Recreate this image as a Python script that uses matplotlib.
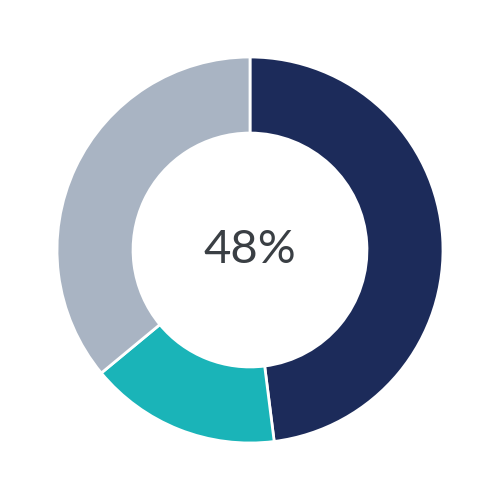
import matplotlib
matplotlib.use("Agg")
import matplotlib.pyplot as plt

labels = ["A", "B", "C"]
values = [48, 16, 36]
colors = ["#1c2b5a", "#1ab4b8", "#a9b4c3"]
center_text = "48%"

fig = plt.figure(figsize=(5, 5), dpi=100)
ax = fig.add_axes([0, 0, 1, 1])
ax.pie(values, colors=colors, startangle=90, counterclock=False,
       radius=1.0, wedgeprops=dict(width=0.394, edgecolor="white", linewidth=2))
ax.text(0, 0, center_text, ha="center", va="center", fontsize=34,
        color="#3a3f44", family=["Lato", "DejaVu Sans"])
lim = 250 / 193
ax.set_xlim(-lim, lim)
ax.set_ylim(-lim, lim)
ax.set_aspect("equal")
ax.axis("off")
fig.savefig("out.png", dpi=100, facecolor="white")
